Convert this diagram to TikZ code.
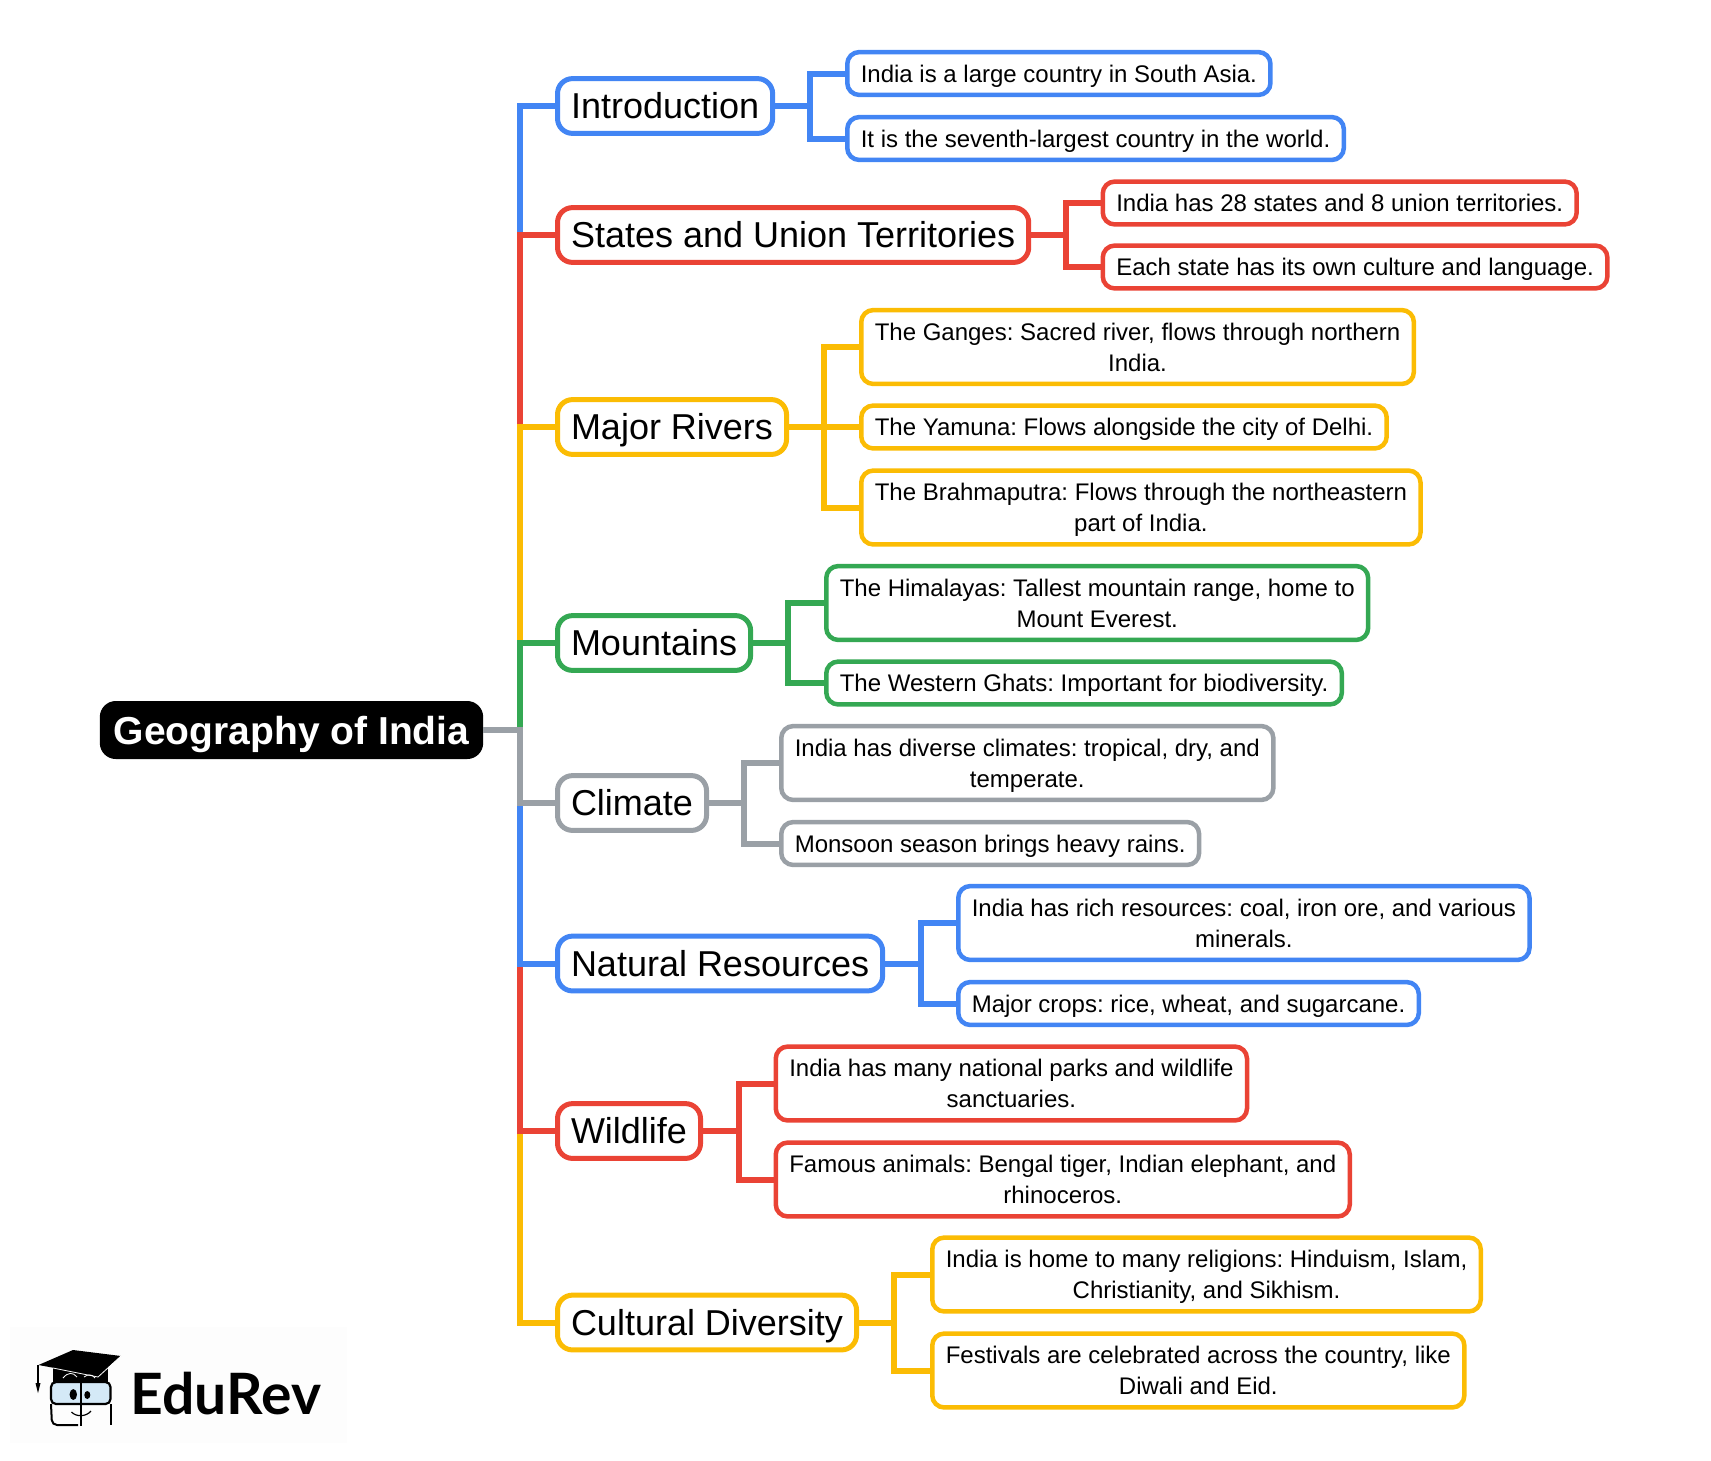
\documentclass[tikz,border=0pt]{standalone}
\usepackage{fontspec}
\setmainfont{Liberation Sans}
\newfontfamily\logofont{Lato}
\frenchspacing
\usetikzlibrary{calc}
\definecolor{mapblue}{HTML}{4285F4}
\definecolor{mapred}{HTML}{EA4335}
\definecolor{mapyellow}{HTML}{FBBC04}
\definecolor{mapgreen}{HTML}{34A853}
\definecolor{mapgrey}{HTML}{9AA0A6}
\definecolor{lensblue}{HTML}{D4E9F7}
\tikzset{
         rootbox/.style={fill=black,text=white,rounded corners=16pt,inner xsep=14pt,inner ysep=0pt,minimum height=58pt,
                         font=\fontsize{39}{45}\selectfont\bfseries,text height=33.5pt,text depth=5.5pt},
         branchbox/.style={draw=#1,fill=white,line width=5pt,rounded corners=15pt,anchor=west,inner xsep=13.5pt,inner ysep=8pt,
                         font=\fontsize{36}{40}\selectfont,text height=32pt,text depth=6.8pt},
         leafbox/.style={draw=#1,fill=white,line width=4.5pt,rounded corners=12pt,anchor=west,inner xsep=13.5pt,inner ysep=8.2pt,
                         font=\fontsize{24}{31}\selectfont,text height=22pt,text depth=4.5pt},
         twolines/.style={align=center,text height=53pt},
         wire/.style={draw=#1,line width=6pt,shorten >=-5pt},
         twig/.style={draw=#1,line width=6pt,shorten >=-4pt,shorten <=-4pt}
        }
\begin{document}
\begin{tikzpicture}[x=1pt,y=-1pt]
      \useasboundingbox (0,0) rectangle (1711,1460);

%%% Root and trunk
      \node[rootbox] (root) at (291.5,730) {Geography of India}; % root
      \coordinate (trunk) at (520,730); % trunk line

%%% Branches
      \node[branchbox=mapblue] (intro) at (555,106) {Introduction}; % Introduction
      \node[branchbox=mapred] (states) at (555,235) {States and Union Territories}; % States
      \node[branchbox=mapyellow] (rivers) at (555,427) {Major Rivers}; % Rivers
      \node[branchbox=mapgreen] (mounts) at (555,643) {Mountains}; % Mountains
      \node[branchbox=mapgrey] (climate) at (555,803) {Climate}; % Climate
      \node[branchbox=mapblue] (natural) at (555,963.5) {Natural Resources}; % Resources
      \node[branchbox=mapred] (wild) at (555,1131) {Wildlife}; % Wildlife
      \node[branchbox=mapyellow] (culture) at (555,1322.5) {Cultural Diversity}; % Culture

%%% Leaves
      \node[leafbox=mapblue] (introA) at (845,73.5) {India is a large country in South Asia.};
      \node[leafbox=mapblue] (introB) at (845,138.5) {It is the seventh-largest country in the world.};
      \node[leafbox=mapred] (statesA) at (1100.5,203) {India has 28 states and 8 union territories.};
      \node[leafbox=mapred] (statesB) at (1100.5,267) {Each state has its own culture and language.};
      \node[leafbox=mapyellow,twolines] (riversA) at (859,347) {The Ganges: Sacred river, flows through northern\\India.};
      \node[leafbox=mapyellow] (riversB) at (859,427) {The Yamuna: Flows alongside the city of Delhi.};
      \node[leafbox=mapyellow,twolines] (riversC) at (859,507.5) {The Brahmaputra: Flows through the northeastern\\part of India.};
      \node[leafbox=mapgreen,twolines] (mountsA) at (824,603) {The Himalayas: Tallest mountain range, home to\\Mount Everest.};
      \node[leafbox=mapgreen] (mountsB) at (824,683) {The Western Ghats: Important for biodiversity.};
      \node[leafbox=mapgrey,twolines] (climateA) at (779,763) {India has diverse climates: tropical, dry, and\\temperate.};
      \node[leafbox=mapgrey] (climateB) at (779,843.5) {Monsoon season brings heavy rains.};
      \node[leafbox=mapblue,twolines] (naturalA) at (956,923) {India has rich resources: coal, iron ore, and various\\minerals.};
      \node[leafbox=mapblue] (naturalB) at (956,1003.5) {Major crops: rice, wheat, and sugarcane.};
      \node[leafbox=mapred,twolines] (wildA) at (773.5,1083.5) {India has many national parks and wildlife\\sanctuaries.};
      \node[leafbox=mapred,twolines] (wildB) at (773.5,1179.5) {Famous animals: Bengal tiger, Indian elephant, and\\rhinoceros.};
      \node[leafbox=mapyellow,twolines] (cultureA) at (930,1274.5) {India is home to many religions: Hinduism, Islam,\\Christianity, and Sikhism.};
      \node[leafbox=mapyellow,twolines] (cultureB) at (930,1370.5) {Festivals are celebrated across the country, like\\Diwali and Eid.};

%%% Root wiring, later colours lie over earlier ones
      \draw[wire=mapblue] (root.east) -- (trunk) |- (intro.west); % Wiring
      \draw[wire=mapred] (root.east) -- (trunk) |- (states.west); % Wiring
      \draw[wire=mapyellow] (root.east) -- (trunk) |- (rivers.west); % Wiring
      \draw[wire=mapgreen] (root.east) -- (trunk) |- (mounts.west); % Wiring
      \draw[wire=mapyellow] (root.east) -- (trunk) |- (culture.west); % Wiring
      \draw[wire=mapred] (root.east) -- (trunk) |- (wild.west); % Wiring
      \draw[wire=mapblue] (root.east) -- (trunk) |- (natural.west); % Wiring
      \draw[wire=mapgrey] (root.east) -- (trunk) |- (climate.west); % Wiring

%%% Branch wiring
      \coordinate (elbowintro) at (809.5,106);
      \coordinate (elbowstates) at (1066,235);
      \coordinate (elbowrivers) at (824,427);
      \coordinate (elbowmounts) at (788,643);
      \coordinate (elbowclimate) at (744,803);
      \coordinate (elbownatural) at (921,963.5);
      \coordinate (elbowwild) at (738.5,1131);
      \coordinate (elbowculture) at (893.5,1322.5);
      \draw[twig=mapblue] (intro.east) -- (elbowintro) |- (introA.west); % Wiring
      \draw[twig=mapblue] (intro.east) -- (elbowintro) |- (introB.west); % Wiring
      \draw[twig=mapred] (states.east) -- (elbowstates) |- (statesA.west); % Wiring
      \draw[twig=mapred] (states.east) -- (elbowstates) |- (statesB.west); % Wiring
      \draw[twig=mapyellow] (rivers.east) -- (elbowrivers) |- (riversA.west); % Wiring
      \draw[twig=mapyellow] (rivers.east) -- (riversB.west); % Wiring
      \draw[twig=mapyellow] (rivers.east) -- (elbowrivers) |- (riversC.west); % Wiring
      \draw[twig=mapgreen] (mounts.east) -- (elbowmounts) |- (mountsA.west); % Wiring
      \draw[twig=mapgreen] (mounts.east) -- (elbowmounts) |- (mountsB.west); % Wiring
      \draw[twig=mapgrey] (climate.east) -- (elbowclimate) |- (climateA.west); % Wiring
      \draw[twig=mapgrey] (climate.east) -- (elbowclimate) |- (climateB.west); % Wiring
      \draw[twig=mapblue] (natural.east) -- (elbownatural) |- (naturalA.west); % Wiring
      \draw[twig=mapblue] (natural.east) -- (elbownatural) |- (naturalB.west); % Wiring
      \draw[twig=mapred] (wild.east) -- (elbowwild) |- (wildA.west); % Wiring
      \draw[twig=mapred] (wild.east) -- (elbowwild) |- (wildB.west); % Wiring
      \draw[twig=mapyellow] (culture.east) -- (elbowculture) |- (cultureA.west); % Wiring
      \draw[twig=mapyellow] (culture.east) -- (elbowculture) |- (cultureB.west); % Wiring

%%% Logo
      \fill[black!0.6] (10,1327) rectangle (347,1443); % logo backing
      \fill[black] (52.5,1366) rectangle (108,1382); % under the cap
      \fill[black] (38.5,1365) -- (73,1350) -- (121,1356) -- (98,1376) -- cycle; % cap
      \draw[white,line width=0.8pt] (53,1368) -- (98,1377) -- (121,1356); % cap rim
      \draw[black,line width=1.3pt] (38,1365) -- (38,1385); % tassel cord
      \fill[black] (35.5,1383) -- (40.5,1383) -- (38,1393) -- cycle; % tassel
      \draw[white,line width=0.8pt] (63,1378) .. controls (68,1372) and (73,1372) .. (77,1377); % left brow
      \draw[white,line width=0.8pt] (84,1377) .. controls (88,1374) and (92,1374) .. (95,1378); % right brow
      \draw[black,fill=lensblue,line width=2.2pt,rounded corners=5pt] (51,1382) rectangle (110.5,1404); % glasses
      \draw[black,line width=2pt,rounded corners=5pt] (78,1425) -- (52,1425) -- (51,1404); % lower left
      \draw[black,line width=2pt,rounded corners=4pt] (110.5,1404) -- (110.5,1425); % lower right
      \draw[black,line width=2.4pt] (81,1380) -- (81,1426); % book spine
      \fill[black] (73.3,1394.5) ellipse (3.7 and 5.5); % left eye
      \fill[black] (87.3,1395) ellipse (3 and 4); % right eye
      \draw[black,line width=1.2pt] (71.5,1412) .. controls (76,1417) and (86,1417) .. (91,1411); % smile
      \node[anchor=base west,inner sep=0pt,font=\fontsize{57}{60}\logofont\bfseries] (logo) at (130.5,1414) {EduRev}; % logo text
\end{tikzpicture}
\end{document}
